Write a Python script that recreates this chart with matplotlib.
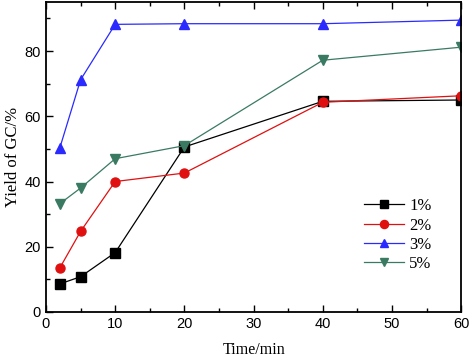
import matplotlib
matplotlib.use('Agg')
import matplotlib.pyplot as plt
from matplotlib.ticker import MultipleLocator

time_min = [2, 5, 10, 20, 40, 60]
yield_1 = [8.6, 10.8, 18.2, 50.6, 64.6, 65.0]
yield_2 = [13.5, 24.7, 40.0, 42.6, 64.3, 66.3]
yield_3 = [50.3, 71.2, 88.2, 88.4, 88.4, 89.5]
yield_5 = [33.2, 38.0, 47.0, 51.0, 77.2, 81.2]
labels = ['1%', '2%', '3%', '5%']

series = [
    (yield_1, '#000000', 's'),
    (yield_2, '#e01010', 'o'),
    (yield_3, '#2a2aff', '^'),
    (yield_5, '#3a7a62', 'v'),
]

fig = plt.figure(figsize=(4.74, 3.64), dpi=100)
ax = fig.add_axes([0.097, 0.143, 0.876, 0.851])

for (vals, col, mk), lab in zip(series, labels):
    ax.plot(time_min, vals, color=col, marker=mk, markersize=6.5, linewidth=0.9, label=lab)

ax.set_xlim(0, 60)
ax.set_ylim(0, 95)
ax.xaxis.set_major_locator(MultipleLocator(10))
ax.xaxis.set_minor_locator(MultipleLocator(5))
ax.yaxis.set_major_locator(MultipleLocator(20))
ax.yaxis.set_minor_locator(MultipleLocator(10))
ax.tick_params(which='both', direction='in', top=True, right=False, width=1)
ax.tick_params(which='major', length=5, labelsize=10.5)
ax.tick_params(which='minor', length=3)
for lab in ax.get_xticklabels() + ax.get_yticklabels():
    lab.set_fontfamily('Liberation Sans')
for sp in ax.spines.values():
    sp.set_linewidth(1.3)

ax.set_xlabel('Time/min', fontfamily='Liberation Serif', fontsize=11.5, labelpad=8)
ax.set_ylabel('Yield of GC/%', fontfamily='Liberation Serif', fontsize=12, labelpad=3)

leg = ax.legend(loc='lower right', bbox_to_anchor=(0.965, 0.08), frameon=False,
                prop={'family': 'Liberation Serif', 'size': 12},
                handlelength=2.4, handletextpad=0.3, labelspacing=0.2, markerscale=0.9)

fig.savefig('out.png', dpi=100)
